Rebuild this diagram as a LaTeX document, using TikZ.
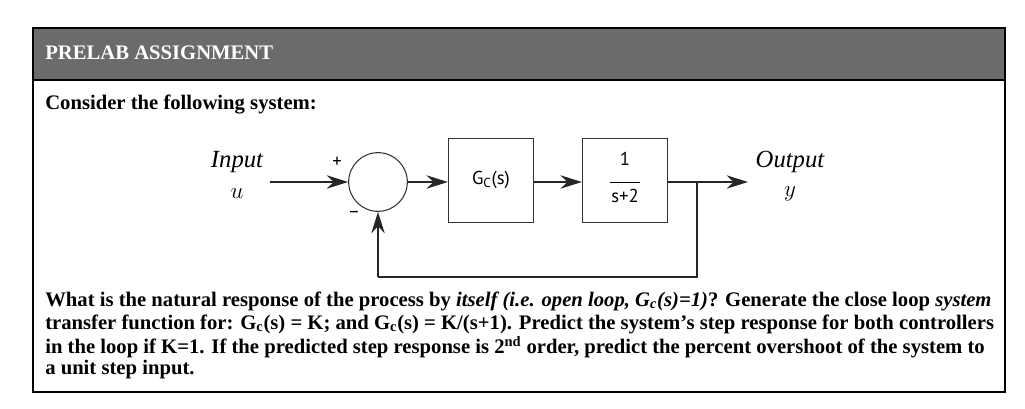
\documentclass[tikz,border=0pt]{standalone}
\usepackage{fontspec}
\setmainfont{Liberation Serif}
\newfontfamily\dsans{PT Sans}
\usetikzlibrary{arrows.meta}
\definecolor{hdr}{HTML}{6B6B6B}
\tikzset{
 blk/.style={draw=black!80,line width=0.7pt,minimum width=64pt,minimum height=63pt,inner sep=0pt,font=\dsans\fontsize{14}{16}\selectfont},
 sig/.style={line width=1.6pt,draw=black!85,-{Stealth[length=16pt,width=10pt]}},
 wire/.style={line width=1.6pt,draw=black!85},
 txt/.style={anchor=west,inner sep=0pt,font=\bfseries\fontsize{15.5}{18}\selectfont},
 lab/.style={inner sep=0pt,font=\itshape\fontsize{18.5}{20}\selectfont}
}
\begin{document}
\begin{tikzpicture}[x=0.75pt,y=-0.75pt]
\useasboundingbox (0,0) rectangle (1025,409);
\fill[hdr] (33,28) rectangle (1005,80);
\draw[line width=0.8pt] (33,28) rectangle (1005,392);
\draw[line width=0.8pt] (33,80) -- (1005,80);
\node[txt,text=white] (h) at (45,53) {PRELAB ASSIGNMENT};
\node[txt] (c) at (45,105) {Consider the following system:};
\node[draw=black!80,line width=0.8pt,circle,minimum size=44pt,inner sep=0pt] (sum) at (378,182) {};
\node[blk] (gc) at (491,180) {G\textsubscript{C}(s)};
\node[blk] (p) at (625,180) {\begin{tabular}{@{}c@{}}1\\[-3pt]\rule{22pt}{0.6pt}\\[-1pt]s+2\end{tabular}};
\coordinate (in) at (270,182);
\coordinate (out) at (748,182);
\coordinate (br) at (697,182);
\coordinate (fb) at (697,277);
\coordinate (fl) at (378,277);
\draw[sig] (in) -- (sum.west);
\draw[sig] (sum.east) -- (gc.west |- sum.east);
\draw[sig] (gc.east |- sum.east) -- (p.west |- sum.east);
\draw[sig] (p.east |- sum.east) -- (out);
\draw[wire] (br) -- (fb) -- (fl);
\draw[sig] (fl) -- (sum.south);
\node[lab] (li) at (237,162) {Input};
\node[lab] (lu) at (237,194) {$u$};
\node[lab] (lo) at (790,162) {Output};
\node[lab] (ly) at (790,194) {$y$};
\node[font=\dsans\fontsize{14}{14}\selectfont] (plus) at (337,162) {+};
\node[font=\dsans\fontsize{14}{14}\selectfont] (minus) at (354,214) {\textendash};
\node[txt] (t1) at (45,301) {What is the natural response of the process by \textit{itself (i.e. open loop, G\textsubscript{c}(s)=1)}? Generate the close loop \textit{system}};
\node[txt] (t2) at (45,324) {transfer function for: G\textsubscript{c}(s) = K; and G\textsubscript{c}(s) = K/(s+1). Predict the system’s step response for both controllers};
\node[txt] (t3) at (45,347) {in the loop if K=1. If the predicted step response is 2\textsuperscript{nd} order, predict the percent overshoot of the system to};
\node[txt] (t4) at (45,370) {a unit step input.};
\end{tikzpicture}
\end{document}
